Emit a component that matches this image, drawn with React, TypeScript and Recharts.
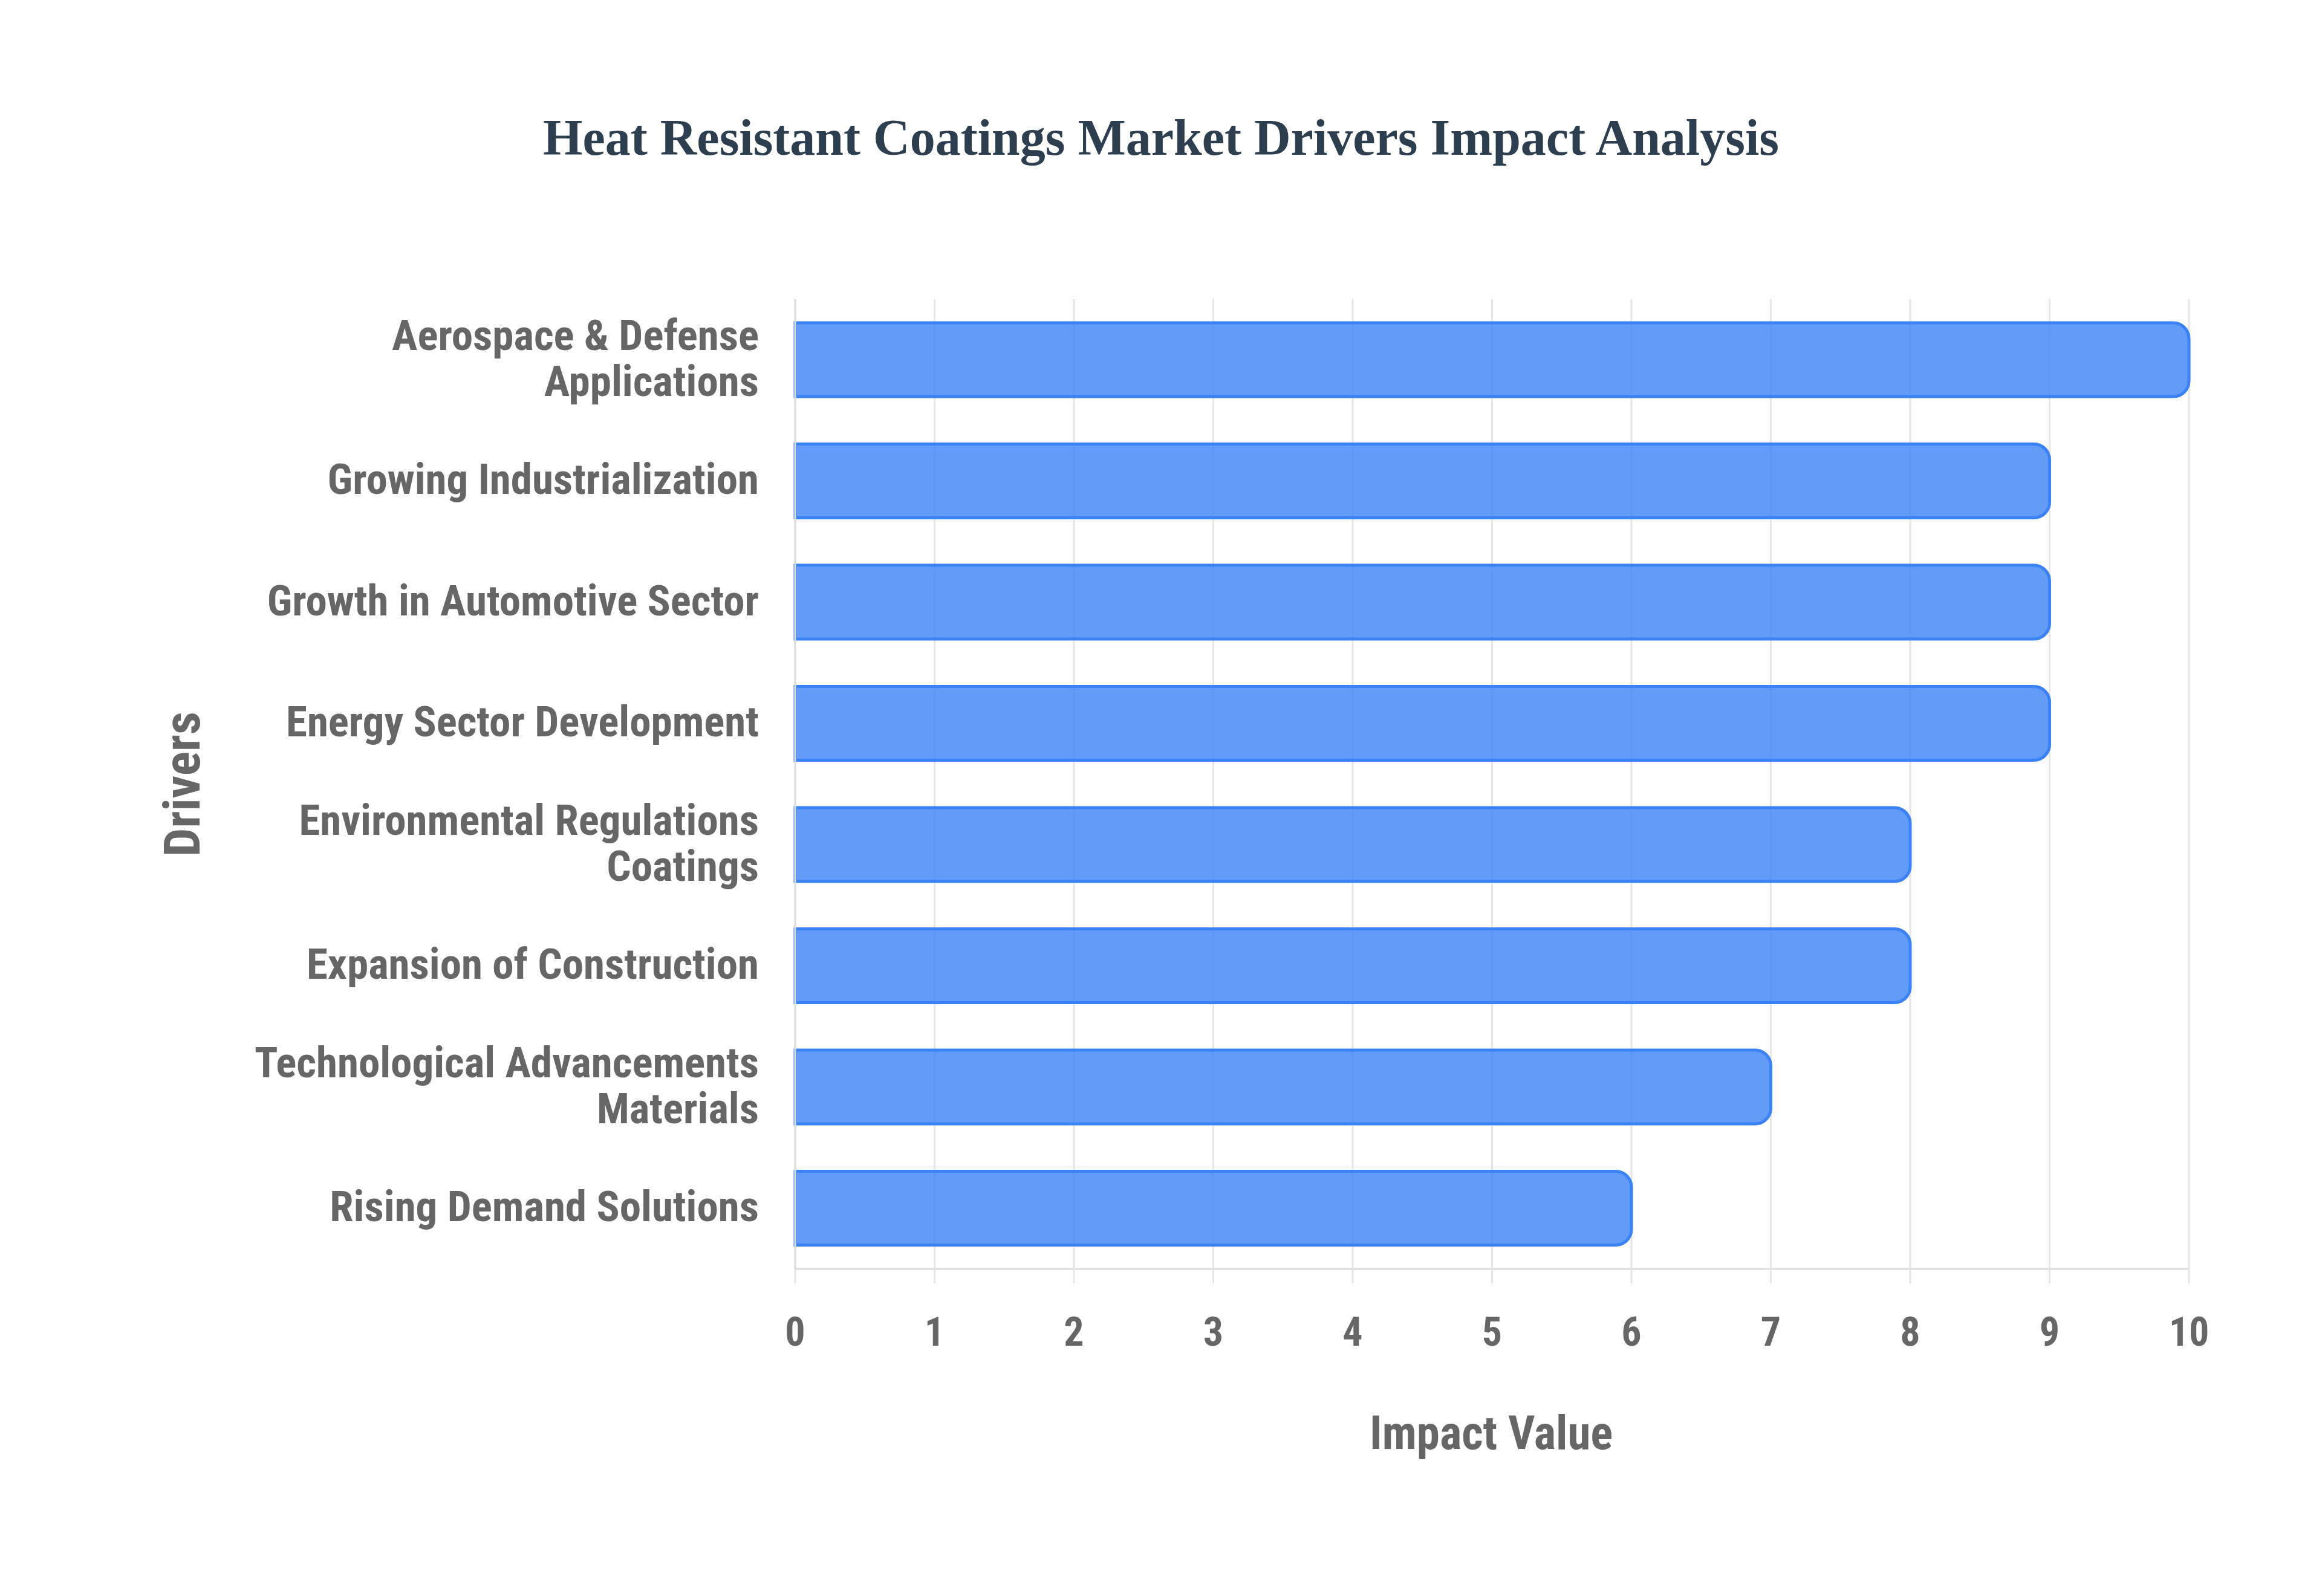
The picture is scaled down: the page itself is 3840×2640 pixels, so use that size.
import React from "react";
import { BarChart, Bar, XAxis, YAxis, CartesianGrid } from "recharts";

const drivers: string[] = [
  "Aerospace & Defense Applications",
  "Growing Industrialization",
  "Growth in Automotive Sector",
  "Energy Sector Development",
  "Environmental Regulations Coatings",
  "Expansion of Construction",
  "Technological Advancements Materials",
  "Rising Demand Solutions",
];
const driverLines: string[][] = [
  ["Aerospace & Defense", "Applications"],
  ["Growing Industrialization"],
  ["Growth in Automotive Sector"],
  ["Energy Sector Development"],
  ["Environmental Regulations", "Coatings"],
  ["Expansion of Construction"],
  ["Technological Advancements", "Materials"],
  ["Rising Demand Solutions"],
];
const impactValues: number[] = [10, 9, 9, 9, 8, 8, 7, 6];
const xTicks: number[] = [0, 1, 2, 3, 4, 5, 6, 7, 8, 9, 10];

const data = drivers.map((d, i) => ({ driver: d, value: impactValues[i] }));

const FONT = "'Liberation Sans Narrow', 'Arial Narrow', 'Roboto Condensed', 'Liberation Sans', sans-serif";
const GREY = "#666666";

const YTick = (props: any) => {
  const { x, y, payload } = props;
  const idx = drivers.indexOf(payload.value);
  const lines = idx >= 0 ? driverLines[idx] : [String(payload.value)];
  const lh = 76;
  const start = -((lines.length - 1) * lh) / 2 - 3;
  return (
    <text
      x={x - 52}
      y={y}
      textAnchor="end"
      fill={GREY}
      fontFamily={FONT}
      fontWeight="bold"
      fontSize={71}
    >
      {lines.map((l, i) => (
        <tspan key={i} x={x - 52} y={y + start + i * lh} dominantBaseline="central">
          {l}
        </tspan>
      ))}
    </text>
  );
};

export default function App() {
  return (
    <div style={{ position: "absolute", left: 0, top: 0, width: 3840, height: 2640, background: "#fff" }}>
      <div
        style={{
          position: "absolute",
          left: 0,
          width: 3840,
          top: 178,
          textAlign: "center",
          fontFamily: "'Liberation Serif', 'Times New Roman', serif",
          fontWeight: "bold",
          fontSize: 84,
          color: "#2c3e50",
          lineHeight: "100px",
        }}
      >
        Heat Resistant Coatings Market Drivers Impact Analysis
      </div>
      <BarChart
        width={3840}
        height={2640}
        data={data}
        layout="vertical"
        margin={{ top: 495, right: 220, left: 0, bottom: 341 }}
      >
        <CartesianGrid horizontal={false} stroke="#e6e6e6" strokeWidth={3} />
        <XAxis
          type="number"
          domain={[0, 10]}
          ticks={xTicks}
          interval={0}
          height={200}
          tickSize={24}
          tickMargin={56}
          axisLine={{ stroke: "#dcdcdc", strokeWidth: 3 }}
          tickLine={{ stroke: "#e6e6e6", strokeWidth: 3 }}
          tick={{ fill: GREY, fontFamily: FONT, fontWeight: "bold", fontSize: 66 }}
        />
        <YAxis
          type="category"
          dataKey="driver"
          width={1315}
          interval={0}
          tickLine={false}
          axisLine={{ stroke: "#dcdcdc", strokeWidth: 3 }}
          tick={<YTick />}
        />
        <Bar
          dataKey="value"
          barSize={122}
          fill="rgba(59,130,246,0.8)"
          stroke="#3b82f6"
          strokeWidth={5}
          radius={[0, 26, 26, 0]}
          isAnimationActive={false}
        />
      </BarChart>
      <div
        style={{
          position: "absolute",
          left: 2466 - 500,
          width: 1000,
          top: 2371 - 50,
          textAlign: "center",
          fontFamily: FONT,
          fontWeight: "bold",
          fontSize: 77,
          color: GREY,
          lineHeight: "100px",
        }}
      >
        Impact Value
      </div>
      <div
        style={{
          position: "absolute",
          left: 302 - 300,
          top: 1297 - 50,
          width: 600,
          height: 100,
          textAlign: "center",
          transform: "rotate(-90deg)",
          transformOrigin: "300px 50px",
          fontFamily: FONT,
          fontWeight: "bold",
          fontSize: 84,
          color: GREY,
          lineHeight: "100px",
        }}
      >
        Drivers
      </div>
    </div>
  );
}
